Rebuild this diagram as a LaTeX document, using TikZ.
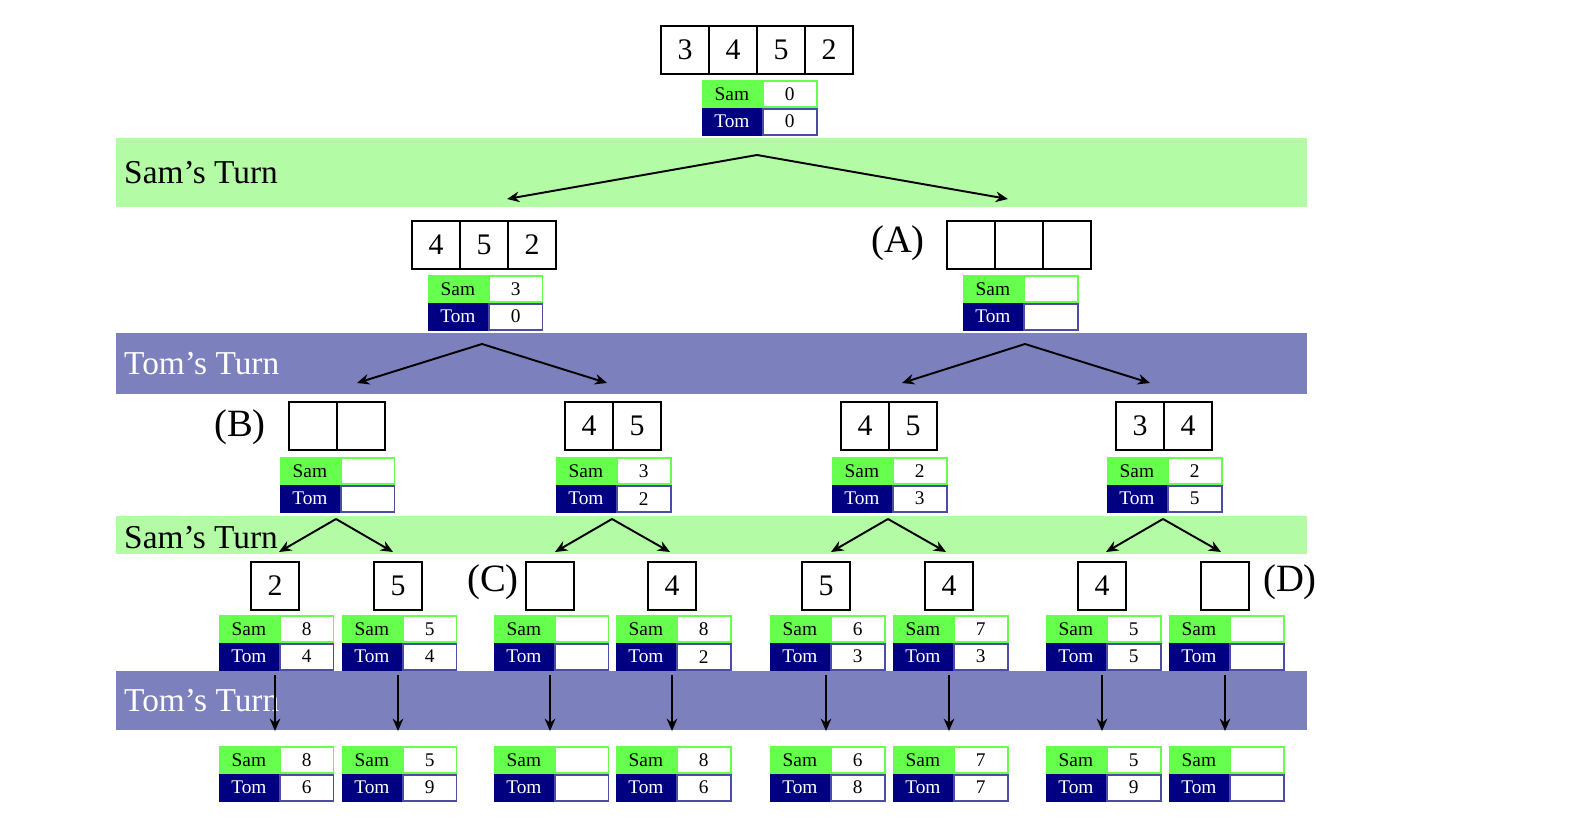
\documentclass[tikz,border=0pt]{standalone}
\usepackage{fontspec}
\setmainfont{Liberation Serif}
\usetikzlibrary{arrows.meta}
\definecolor{samband}{HTML}{B3FBA5}
\definecolor{tomband}{HTML}{7C80BC}
\definecolor{samgreen}{HTML}{66FF4D}
\definecolor{tomblue}{HTML}{000080}

% one cell per value, left edge at x, top at y
\newcommand\cells[4]{%
    \foreach \v [count=\i] in {#4} {
            \node[cell, anchor=north west] (#1c\i) at ({#2+48*(\i-1)},#3) {\v};
        }}
% score table, centre x, top y
\newcommand\score[5]{%
    \node[samlbl, anchor=north west] (#1s) at ({#2-56},#3) {Sam};
    \node[samval, anchor=west] (#1sv) at (#1s.east) {#4};
    \node[tomlbl, anchor=north] (#1t) at (#1s.south) {Tom};
    \node[tomval, anchor=west] (#1tv) at (#1t.east) {#5};}

\begin{document}
\begin{tikzpicture}[x=0.02cm, y=-0.02cm,
        cell/.style={draw, line width=1.2pt, minimum size=0.96cm, inner sep=0pt, font=\fontsize{17}{17}\selectfont},
        samlbl/.style={fill=samgreen, draw=samgreen, line width=1pt, minimum width=1.16cm, minimum height=0.52cm, inner sep=0pt, font=\fontsize{11}{11}\selectfont},
        samval/.style={samlbl, fill=white, minimum width=1.08cm},
        tomlbl/.style={samlbl, fill=tomblue, draw=tomblue, text=white},
        tomval/.style={samval, draw=tomblue!70},
        band/.style={anchor=north west, inner sep=0pt, minimum width=23.82cm},
        turn/.style={font=\fontsize{19}{19}\selectfont, anchor=west},
        tag/.style={font=\fontsize{22}{22}\selectfont},
        move/.style={line width=1.1pt, -{Stealth[length=7pt, width=6pt]}}
    ]
    \useasboundingbox (0,0) rectangle (1572,824);

    % turn bands
    \node[band, fill=samband, minimum height=1.38cm] (band1) at (116,138) {};
    \node[band, fill=tomband, minimum height=1.22cm] (band2) at (116,333) {};
    \node[band, fill=samband, minimum height=0.76cm] (band3) at (116,516) {};
    \node[band, fill=tomband, minimum height=1.18cm] (band4) at (116,671) {};
    \node[turn] (t1) at (118,173) {Sam's Turn};
    \node[turn, text=white] (t2) at (118,364) {Tom's Turn};
    \node[turn] (t3) at (118,538) {Sam's Turn};
    \node[turn, text=white] (t4) at (118,701) {Tom's Turn};

    % root
    \cells{r}{660}{25}{3,4,5,2}
    \score{r}{758}{80}{0}{0}

    % after Sam's first move
    \cells{a}{411}{220}{4,5,2}
    \score{a}{484}{275}{3}{0}
    \cells{b}{946}{220}{~,~,~}
    \score{b}{1019}{275}{}{}
    \node[tag] (lA) at (898,243) {(A)};

    % after Tom's move
    \cells{c}{288}{401}{~,~}
    \score{c}{336}{457}{}{}
    \node[tag] (lB) at (240,427) {(B)};
    \cells{d}{564}{401}{4,5}
    \score{d}{612}{457}{3}{2}
    \cells{e}{840}{401}{4,5}
    \score{e}{888}{457}{2}{3}
    \cells{f}{1115}{401}{3,4}
    \score{f}{1163}{457}{2}{5}

    % last moves
    \foreach \nm/\x/\v/\s/\t/\fs/\ft in {g/275/2/8/4/8/6, h/398/5/5/4/5/9, i/550/~/{}/{}/{}/{},
            j/672/4/8/2/8/6, k/826/5/6/3/6/8, l/949/4/7/3/7/7, m/1102/4/5/5/5/9, n/1225/~/{}/{}/{}/{}} {
            \node[cell, anchor=north] (\nm c1) at (\x,561) {\v};
            \score{\nm}{\x}{615}{\s}{\t}
            \score{\nm z}{\x}{746}{\fs}{\ft}
            \coordinate (\nm top) at (\x,675);
            \coordinate (\nm bot) at (\x,731);
            \draw[move] (\nm top) -- (\nm bot);
        }
    \node[tag] (lC) at (493,582) {(C)};
    \node[tag] (lD) at (1290,582) {(D)};

    % move arrows
    \coordinate (p0) at (757,155);
    \coordinate (p1) at (482,344);
    \coordinate (p2) at (1025,344);
    \coordinate (q0) at (507,199);
    \coordinate (q1) at (1008,199);
    \draw[move] (p0) -- (q0);
    \draw[move] (p0) -- (q1);
    \foreach \p/\a/\b in {p1/357/607, p2/902/1150} {
            \draw[move] (\p) -- (\a,383);
            \draw[move] (\p) -- (\b,383);
        }
    \foreach \x/\a/\b in {336/279/393, 612/555/670, 888/831/946, 1163/1106/1221} {
            \coordinate (s\x) at (\x,519);
            \draw[move] (s\x) -- (\a,552);
            \draw[move] (s\x) -- (\b,552);
        }
\end{tikzpicture}
\end{document}
